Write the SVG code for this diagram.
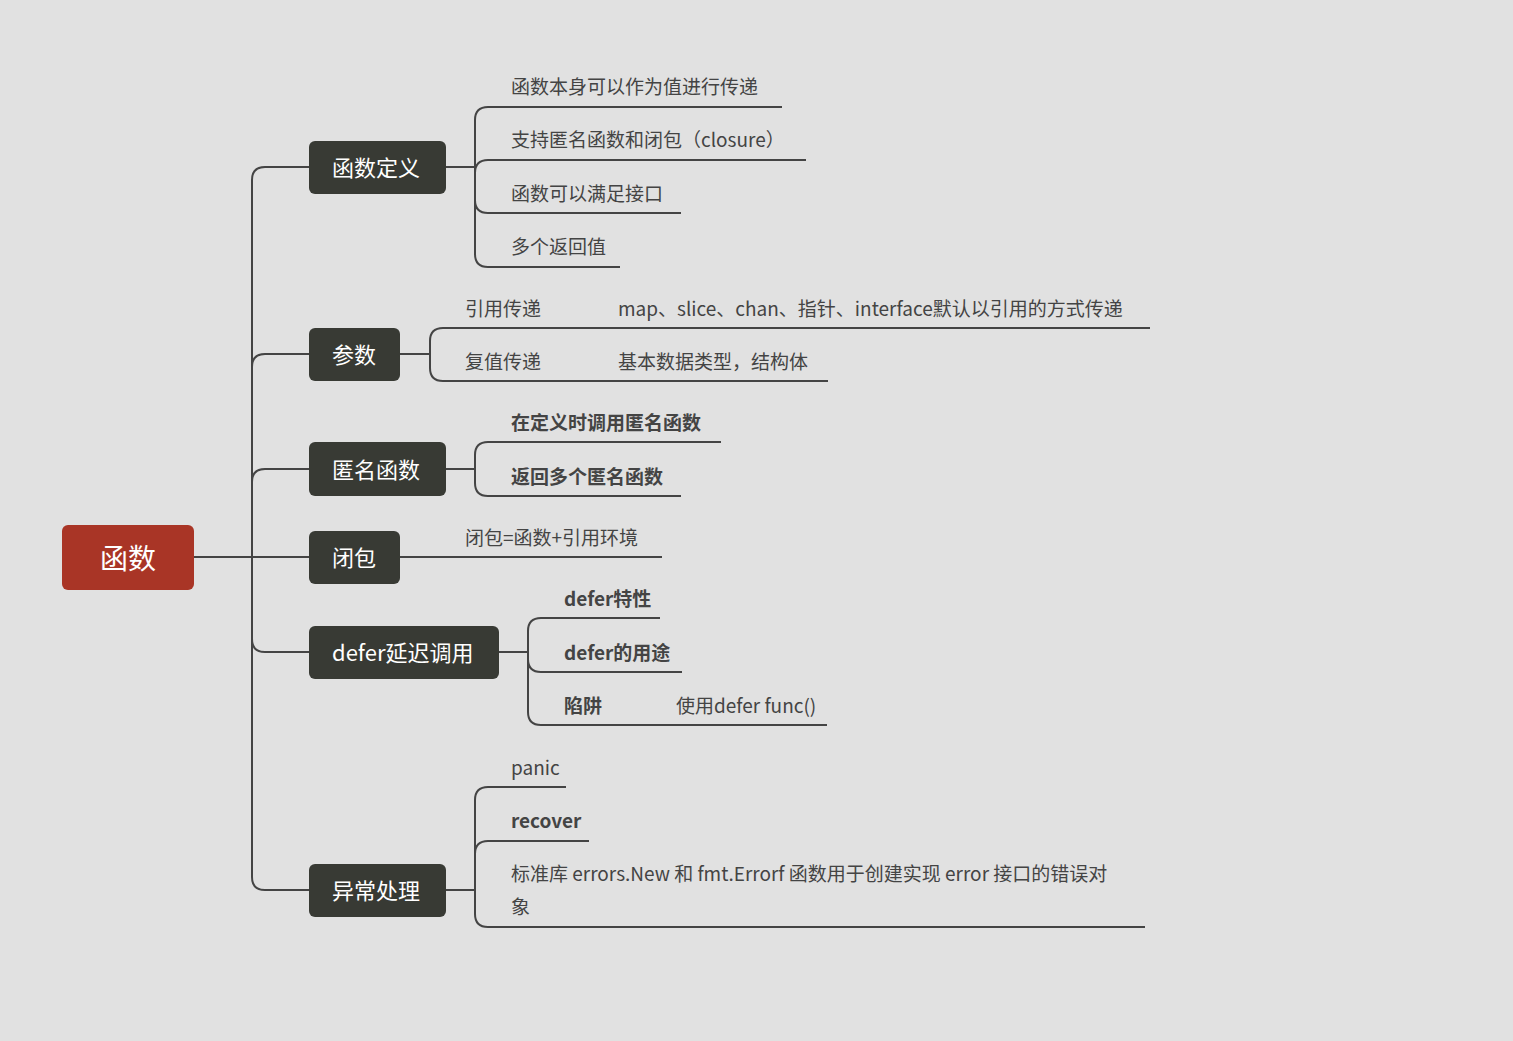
<svg xmlns="http://www.w3.org/2000/svg" width="1513" height="1041" viewBox="0 0 1513 1041">
<style>
.bg{fill:#e1e1e1}
.n{fill:#383a34}
.nt{fill:#fff;font-family:"Noto Sans CJK SC","Noto Sans",sans-serif;font-size:22px;dominant-baseline:central}
.c{fill:none;stroke:#444;stroke-width:2}
.t{fill:#444;font-family:"Noto Sans CJK SC","Noto Sans",sans-serif;font-size:19px;dominant-baseline:central}
.b{font-weight:bold}
</style>
<rect class="bg" width="1513" height="1041"/>
<g id="connectors">
<path class="c" d="M194,557 H252"/>
<path class="c" d="M252,557 V180 Q252,167 265,167 H309"/>
<path class="c" d="M252,367 Q252,354 265,354 H309"/>
<path class="c" d="M252,482 Q252,469 265,469 H309"/>
<path class="c" d="M252,557 H309"/>
<path class="c" d="M252,639 Q252,652 265,652 H309"/>
<path class="c" d="M252,557 V877 Q252,890 265,890 H309"/>
<path class="c" d="M446,167 H475 M475,120 Q475,107 488,107 H782 M475,120 V254 Q475,267 488,267 H620 M475,173 Q475,160 488,160 H806 M475,200 Q475,213 488,213 H681"/>
<path class="c" d="M400,354 H430 M430,341 Q430,328 443,328 H1150 M430,341 V368 Q430,381 443,381 H828"/>
<path class="c" d="M446,469 H475 M475,455 Q475,442 488,442 H721 M475,455 V483 Q475,496 488,496 H681"/>
<path class="c" d="M400,557 H662"/>
<path class="c" d="M499,652 H528 M528,631 Q528,618 541,618 H660 M528,631 V712 Q528,725 541,725 H827 M528,659 Q528,672 541,672 H682"/>
<path class="c" d="M446,890 H475 M475,800 Q475,787 488,787 H566 M475,800 V914 Q475,927 488,927 H1145 M475,854 Q475,841 488,841 H589"/>
</g>
<g id="root"><rect x="62" y="525" width="132" height="65" rx="6" fill="#a93526"/><text class="nt" x="128" y="557" text-anchor="middle" font-size="28" style="font-size:28px">函数</text></g>
<g id="n1"><rect class="n" x="309" y="141" width="137" height="53" rx="6"/><text class="nt" x="332" y="166">函数定义</text></g>
<g id="n2"><rect class="n" x="309" y="328" width="91" height="53" rx="6"/><text class="nt" x="332" y="353">参数</text></g>
<g id="n3"><rect class="n" x="309" y="442" width="137" height="54" rx="6"/><text class="nt" x="332" y="468">匿名函数</text></g>
<g id="n4"><rect class="n" x="309" y="531" width="91" height="53" rx="6"/><text class="nt" x="332" y="556">闭包</text></g>
<g id="n5"><rect class="n" x="309" y="626" width="190" height="53" rx="6"/><text class="nt" x="332" y="651">defer延迟调用</text></g>
<g id="n6"><rect class="n" x="309" y="864" width="137" height="53" rx="6"/><text class="nt" x="332" y="889">异常处理</text></g>
<g id="labels">
<text class="t" x="511" y="85">函数本身可以作为值进行传递</text>
<text class="t" x="511" y="138">支持匿名函数和闭包（closure）</text>
<text class="t" x="511" y="192">函数可以满足接口</text>
<text class="t" x="511" y="245">多个返回值</text>
<text class="t" x="465" y="307">引用传递</text>
<text class="t" x="618" y="307">map、slice、chan、指针、interface默认以引用的方式传递</text>
<text class="t" x="465" y="360">复值传递</text>
<text class="t" x="618" y="360">基本数据类型，结构体</text>
<text class="t b" x="511" y="421">在定义时调用匿名函数</text>
<text class="t b" x="511" y="475">返回多个匿名函数</text>
<text class="t" x="465" y="536">闭包=函数+引用环境</text>
<text class="t b" x="564" y="597">defer特性</text>
<text class="t b" x="564" y="651">defer的用途</text>
<text class="t b" x="564" y="704">陷阱</text>
<text class="t" x="676" y="704">使用defer func()</text>
<text class="t" x="511" y="766">panic</text>
<text class="t b" x="511" y="819">recover</text>
<text class="t" x="511" y="872">标准库 errors.New 和 fmt.Errorf 函数用于创建实现 error 接口的错误对</text>
<text class="t" x="511" y="905">象</text>
</g>
</svg>
